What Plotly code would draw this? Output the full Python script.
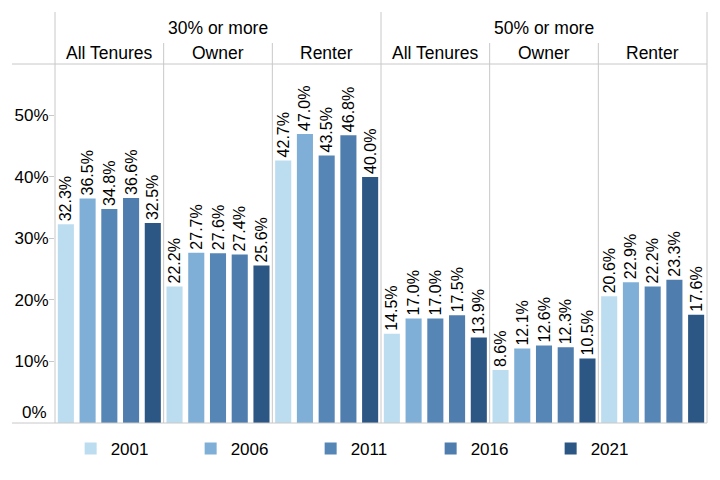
import plotly.graph_objects as go

# ---- data ----
groups = ["30% or more", "50% or more"]
tenures = ["All Tenures", "Owner", "Renter"]
categories = [g + "|" + t for g in groups for t in tenures]
years = ["2001", "2006", "2011", "2016", "2021"]
v2001 = [32.3, 22.2, 42.7, 14.5, 8.6, 20.6]
v2006 = [36.5, 27.7, 47.0, 17.0, 12.1, 22.9]
v2011 = [34.8, 27.6, 43.5, 17.0, 12.6, 22.2]
v2016 = [36.6, 27.4, 46.8, 17.5, 12.3, 23.3]
v2021 = [32.5, 25.6, 40.0, 13.9, 10.5, 17.6]
series = [v2001, v2006, v2011, v2016, v2021]
colors = ["#BCDDF0", "#7FAFD6", "#5686B6", "#4F7DAD", "#2C5683"]
ytick_vals = [0.1, 0.2, 0.3, 0.4, 0.5]

FONT = "Liberation Sans, Arial, sans-serif"
GRID = "#C8C8C8"

fig = go.Figure()
for yr, vals, col in zip(years, series, colors):
    fig.add_trace(go.Bar(
        name=yr, x=categories, y=[v / 100 for v in vals],
        marker=dict(color=col, line=dict(width=0)),
        text=[f"{v:.1f}%" for v in vals], textposition="outside",
        textangle=-90, constraintext="none", cliponaxis=False,
        textfont=dict(size=16, color="black", family=FONT),
    ))

shapes = []
# vertical separators
for k in range(7):
    top = 1.1448 if k in (0, 3, 6) else 1.0585
    shapes.append(dict(type="line", xref="paper", yref="paper",
                       x0=k / 6, x1=k / 6, y0=0, y1=top,
                       line=dict(color=GRID, width=1)))
# header line and baseline
for yy in (0, 1):
    shapes.append(dict(type="line", xref="paper", yref="paper",
                       x0=-0.066, x1=1, y0=yy, y1=yy,
                       line=dict(color=GRID, width=1)))

annotations = []
for i, g in enumerate(groups):
    annotations.append(dict(text=g, xref="paper", yref="paper", xanchor="center",
                            yanchor="middle",
                            x=0.25 + 0.5 * i, y=1.100, showarrow=False,
                            font=dict(size=17.5, color="black", family=FONT)))
    for j, t in enumerate(tenures):
        annotations.append(dict(text=t, xref="paper", yref="paper", xanchor="center",
                                yanchor="middle",
                                x=(i * 3 + j + 0.5) / 6, y=1.0306, showarrow=False,
                                font=dict(size=17.5, color="black", family=FONT)))
annotations.append(dict(text="0%", xref="paper", yref="y", x=0, y=0,
                        xanchor="right", xshift=-6, yshift=11, showarrow=False,
                        font=dict(size=17, color="black", family=FONT)))

fig.update_layout(
    width=712, height=472,
    margin=dict(l=47, r=13, t=56, b=57, autoexpand=False),
    paper_bgcolor="white", plot_bgcolor="white",
    barmode="group", bargap=0, bargroupgap=0.26,
    font=dict(family=FONT, size=17, color="black"),
    showlegend=True,
    legend=dict(orientation="h", x=0.024, xanchor="left", y=-0.072, yanchor="middle",
                entrywidth=75, entrywidthmode="pixels",
                font=dict(size=17, color="black", family=FONT)),
    shapes=shapes, annotations=annotations,
    xaxis=dict(showticklabels=False, showgrid=False, zeroline=False, showline=False,
               ticks="", automargin=False),
    yaxis=dict(range=[0, 0.5837], tickvals=ytick_vals, tickformat=".0%",
               showgrid=False, zeroline=False, showline=False, automargin=False,
               ticks="outside", ticklen=5, tickcolor=GRID, ticklabelstandoff=-3,
               tickfont=dict(size=17, color="black", family=FONT)),
)

fig.write_html("out.html")
